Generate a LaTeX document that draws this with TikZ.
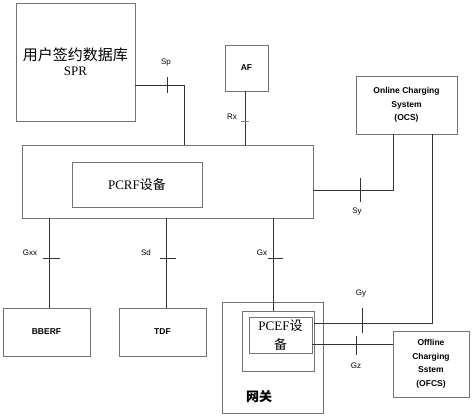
\documentclass[tikz,border=0pt]{standalone}
\usepackage{fontspec}
\setmainfont{Liberation Serif}
\setsansfont{Liberation Sans}
\newfontfamily\cjk{Noto Sans CJK SC}
\begin{document}
\begin{tikzpicture}[x=1pt,y=-1pt,
  box/.style={draw=black!55,line width=0.9pt,rectangle,inner sep=0pt,align=center,fill=white},
  sbox/.style={box,font=\sffamily\bfseries\fontsize{8.5}{13.5}\selectfont},
  conn/.style={draw=black!80,line width=1pt},
  tick/.style={draw=black!80,line width=0.8pt},
  lab/.style={font=\sffamily\fontsize{8}{9}\selectfont,inner sep=0pt}]
\useasboundingbox (0,0) rectangle (474,418);
% boxes
\node[box,minimum width=119pt,minimum height=118pt] (spr) at (75.5,62)
  {{\cjk\fontsize{15}{18}\selectfont 用户签约数据库}\\[3pt]{\fontsize{13}{15}\selectfont SPR}};
\node[sbox,minimum width=43pt,minimum height=46pt] (af) at (246.5,68) {AF};
\node[sbox,minimum width=101pt,minimum height=58pt] (ocs) at (406.5,105) {Online Charging\\System\\(OCS)};
\node[box,minimum width=291pt,minimum height=73pt] (pcrf) at (167.5,181.5) {};
\node[box,minimum width=130pt,minimum height=45pt] (pcrfin) at (137,184.5)
  {\fontsize{13}{15}\selectfont PCRF{\cjk 设备}};
\node[sbox,minimum width=87pt,minimum height=48pt] (bberf) at (46.5,332) {BBERF};
\node[sbox,minimum width=87pt,minimum height=48pt] (tdf) at (162.5,332) {TDF};
\node[box,minimum width=101pt,minimum height=111pt] (gw) at (272.5,357.5) {};
\node[font=\cjk\bfseries\fontsize{13}{15}\selectfont,inner sep=0pt] (gwlab) at (259,397) {网关};
\node[box,minimum width=72pt,minimum height=60pt] (pcefout) at (278,341) {};
\node[box,minimum width=63pt,minimum height=36pt,font=\fontsize{13}{19}\selectfont] (pcefin) at (280.5,335)
  {PCEF{\cjk 设}\\{\cjk\fontsize{13}{19}\selectfont 备}};
\node[sbox,minimum width=76pt,minimum height=66pt] (ofcs) at (431,364) {Offline\\Charging\\Sstem\\(OFCS)};
% connectors
\coordinate (spc) at (184,85);
\draw[conn] (spr.east |- spc) -- (spc) -- (spc |- pcrf.north);
\draw[tick] (167,77) -- (167,93);
\node[lab] (sp) at (166,63) {Sp};

\coordinate (rxc) at (245,121);
\draw[conn] (rxc |- af.south) -- (rxc |- pcrf.north);
\draw[tick,draw=black!50] (241,121) -- (249,121);
\node[lab] (rx) at (232,117) {Rx};

\coordinate (syc) at (393,190);
\draw[conn] (pcrf.east |- syc) -- (syc) -- (syc |- ocs.south);
\draw[tick] (360,178) -- (360,202);
\node[lab] (sy) at (357,212) {Sy};

\coordinate (gyc) at (432,323);
\draw[conn] (pcefout.east |- gyc) -- (gyc) -- (gyc |- ocs.south);
\draw[tick] (362,308) -- (362,333);
\node[lab] (gy) at (361,294) {Gy};

\coordinate (gzc) at (393,344);
\draw[conn] (pcefin.east |- gzc) -- (ofcs.west |- gzc);
\draw[tick] (356,336) -- (356,355);
\node[lab] (gz) at (356,366) {Gz};

\coordinate (gxxc) at (49,258);
\draw[conn] (gxxc |- pcrf.south) -- (gxxc |- bberf.north);
\draw[tick] (43,258) -- (60,258);
\node[lab] (gxx) at (30,253) {Gxx};

\coordinate (sdc) at (166,258);
\draw[conn] (sdc |- pcrf.south) -- (sdc |- tdf.north);
\draw[tick] (160,258) -- (176,258);
\node[lab] (sd) at (146,253) {Sd};

\coordinate (gxc) at (273,258);
\draw[conn] (gxc |- pcrf.south) -- (gxc |- pcefout.north);
\draw[tick] (268,258) -- (283,258);
\node[lab] (gx) at (262,253) {Gx};
\end{tikzpicture}
\end{document}
